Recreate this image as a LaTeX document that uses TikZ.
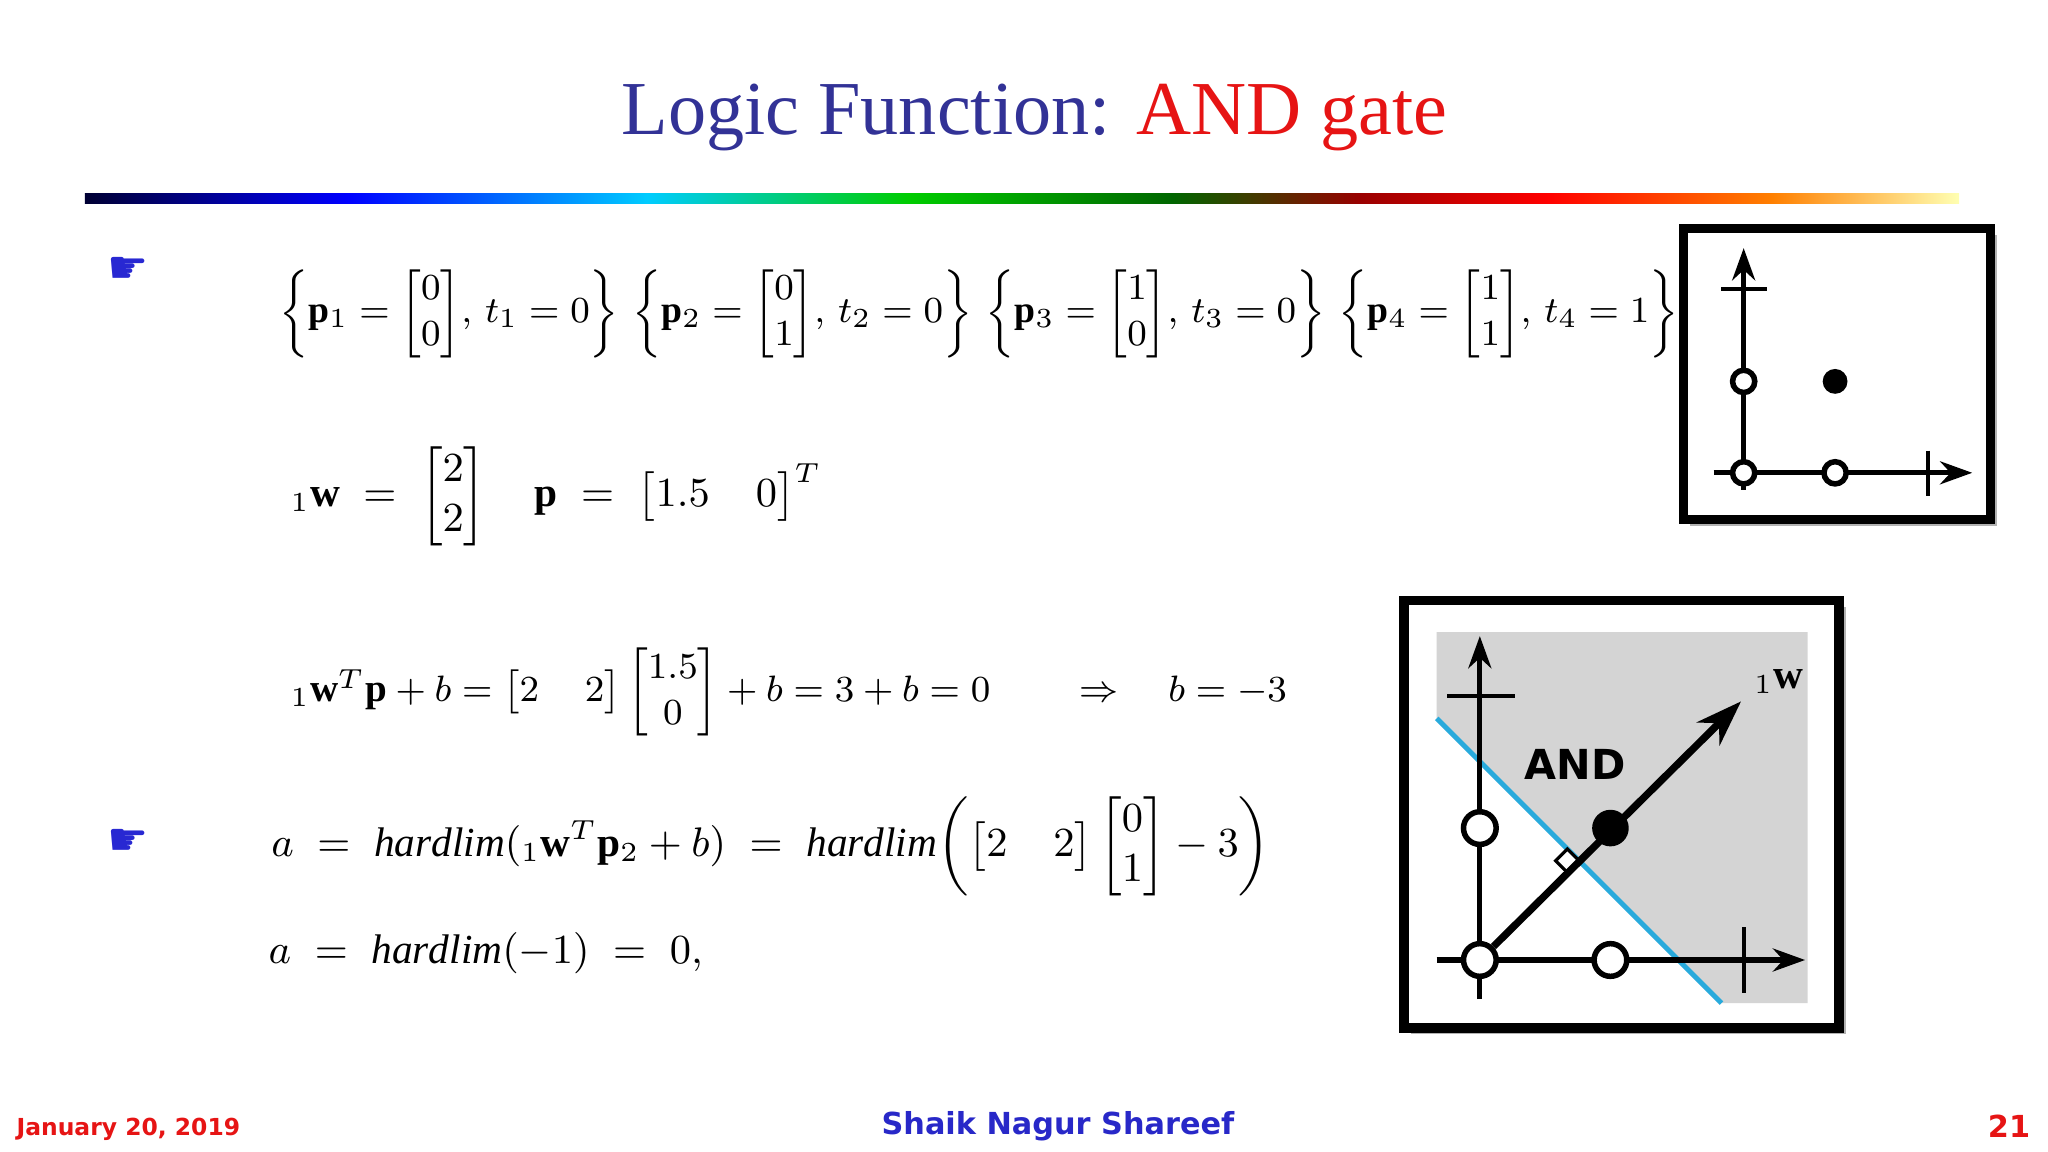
\documentclass[tikz,border=0pt]{standalone}
\usepackage{amsmath}
\usepackage{fontspec}
\setmainfont{Liberation Serif}
\newfontfamily\dvs{DejaVu Sans}
\usetikzlibrary{arrows.meta}
\definecolor{ttlblue}{RGB}{50,50,150}
\definecolor{ttlred}{RGB}{230,20,20}
\definecolor{ftblue}{RGB}{40,40,200}
\definecolor{handblue}{RGB}{40,40,210}
\definecolor{bndblue}{RGB}{40,170,220}
\pgfdeclarehorizontalshading{rainbow}{100bp}{color(0bp)=(black!80!blue); color(25bp)=(black!80!blue); color(32bp)=(blue); color(40bp)=(cyan!80!blue); color(47bp)=(green!80!black); color(54bp)=(green!40!black); color(59bp)=(red!60!black); color(64bp)=(red); color(70bp)=(orange); color(75bp)=(yellow!30); color(100bp)=(yellow!30)}
\tikzset{
  mth/.style={font=\fontsize{9}{11}\selectfont, inner sep=0pt},
  frame/.style={draw=black, line width=2pt},
  shadowbox/.style={fill=black!30},
  ax/.style={line width=1.1pt, -{Stealth[length=7pt,width=5pt]}},
  tick/.style={line width=0.9pt},
  ocirc/.style={circle, draw=black, fill=white, line width=1.2pt, inner sep=0pt},
  fcirc/.style={circle, fill=black, inner sep=0pt},
  foot/.style={font=\dvs\bfseries\fontsize{5.1}{6}\selectfont, inner sep=0pt},
}
\begin{document}
\begin{tikzpicture}[x=0.01cm,y=-0.01cm]
\useasboundingbox (0,0) rectangle (1568,882);
% title
\node[inner sep=0pt, font=\fontsize{16.6}{19}\selectfont] (title) at (792,90) {\textcolor{ttlblue}{Logic Function:} \textcolor{ttlred}{AND gate}};
\shade[shading=rainbow] (65,148) rectangle (1500,156);
% hands
\node[text=handblue, font=\dvs\fontsize{10}{10}\selectfont, inner sep=0pt] (h1) at (98,207) {☛};
\node[text=handblue, font=\dvs\fontsize{10}{10}\selectfont, inner sep=0pt] (h2) at (98,645) {☛};
% equations
\node[mth, anchor=west, font=\fontsize{8.2}{10}\selectfont] (e1) at (213,240) {$\left\{\mathbf{p}_1=\begin{bmatrix}0\\0\end{bmatrix}\!,\,t_1=0\right\}\,\left\{\mathbf{p}_2=\begin{bmatrix}0\\1\end{bmatrix}\!,\,t_2=0\right\}\,\left\{\mathbf{p}_3=\begin{bmatrix}1\\0\end{bmatrix}\!,\,t_3=0\right\}\,\left\{\mathbf{p}_4=\begin{bmatrix}1\\1\end{bmatrix}\!,\,t_4=1\right\}$};
\node[mth, anchor=west] (e2) at (222,380) {${}_1\mathbf{w}\;=\;\begin{bmatrix}2\\2\end{bmatrix}\quad\mathbf{p}\;=\;\begin{bmatrix}1.5 & 0\end{bmatrix}^T$};
\node[mth, anchor=west, font=\fontsize{8.5}{10}\selectfont] (e3) at (222,530) {${}_1\mathbf{w}^T\mathbf{p}+b=\begin{bmatrix}2 & 2\end{bmatrix}\begin{bmatrix}1.5\\0\end{bmatrix}+b=3+b=0\qquad\Rightarrow\quad b=-3$};
\node[mth, anchor=west] (e4) at (207,648) {$a\;=\;\mathit{hardlim}({}_1\mathbf{w}^T\mathbf{p}_2+b)\;=\;\mathit{hardlim}\!\left(\begin{bmatrix}2 & 2\end{bmatrix}\begin{bmatrix}0\\1\end{bmatrix}-3\right)$};
\node[mth, anchor=west] (e5) at (205,730) {$a\;=\;\mathit{hardlim}(-1)\;=\;0,$};
% box 1
\fill[shadowbox] (1294,180) rectangle (1529,403);
\draw[frame, fill=white] (1289,175) rectangle (1524,398);
\coordinate (a1o) at (1335,375); \coordinate (a1t) at (1335,190);
\coordinate (a1l) at (1312,362); \coordinate (a1r) at (1510,362);
\draw[ax] (a1o) -- (a1t);
\draw[ax] (a1l) -- (a1r);
\draw[tick] (1318,221) -- (1353,221);
\draw[tick] (1476,345) -- (1476,380);
\node[ocirc, minimum size=0.17cm] (q1) at (1335,292) {};
\node[ocirc, minimum size=0.17cm] (q2) at (1335,362) {};
\node[ocirc, minimum size=0.17cm] (q3) at (1405,362) {};
\node[fcirc, minimum size=0.19cm] (q4) at (1405,292) {};
% box 2
\fill[shadowbox] (1080,465) rectangle (1413,792);
\draw[frame, fill=white] (1075,460) rectangle (1408,787);
\fill[black!17] (1100,484) -- (1384,484) -- (1384,768) -- (1318,768) -- (1100,550) -- cycle;
\coordinate (b1) at (1100,550); \coordinate (b2) at (1318,768);
\draw[bndblue, line width=1.1pt] (b1) -- (b2);
\draw[ax] (1133,765) -- (1133,487);
\draw[ax] (1100,735) -- (1382,735);
\draw[tick] (1108,533) -- (1160,533);
\draw[tick] (1335,710) -- (1335,760);
\draw[black, line width=0.7pt, fill=white] (1209,659) -- (1200,668) -- (1191,659) -- (1200,650) -- cycle;
\node[ocirc, minimum size=0.25cm] (r0) at (1133,735) {};
\node[ocirc, minimum size=0.25cm] (r1) at (1133,634) {};
\node[ocirc, minimum size=0.25cm] (r2) at (1233,735) {};
\node[fcirc, minimum size=0.28cm] (r3) at (1233,634) {};
\coordinate (wt) at (1333,537);
\draw[line width=1.6pt, -{Stealth[length=10pt,width=7pt]}] (r0) -- (wt);
\node[mth] (wl) at (1362,522) {${}_1\mathbf{w}$};
\node[inner sep=0pt, font=\dvs\bfseries\fontsize{9}{10}\selectfont] (and) at (1206,585) {AND};
% footer
\node[foot, text=ttlred, anchor=west] (date) at (12,865) {January 20, 2019};
\node[foot, text=ftblue, font=\dvs\bfseries\fontsize{6.6}{7}\selectfont] (auth) at (810,862) {Shaik Nagur Shareef};
\node[foot, text=ttlred, anchor=east, font=\dvs\bfseries\fontsize{6.6}{7}\selectfont] (pg) at (1555,862) {21};
\end{tikzpicture}
\end{document}
